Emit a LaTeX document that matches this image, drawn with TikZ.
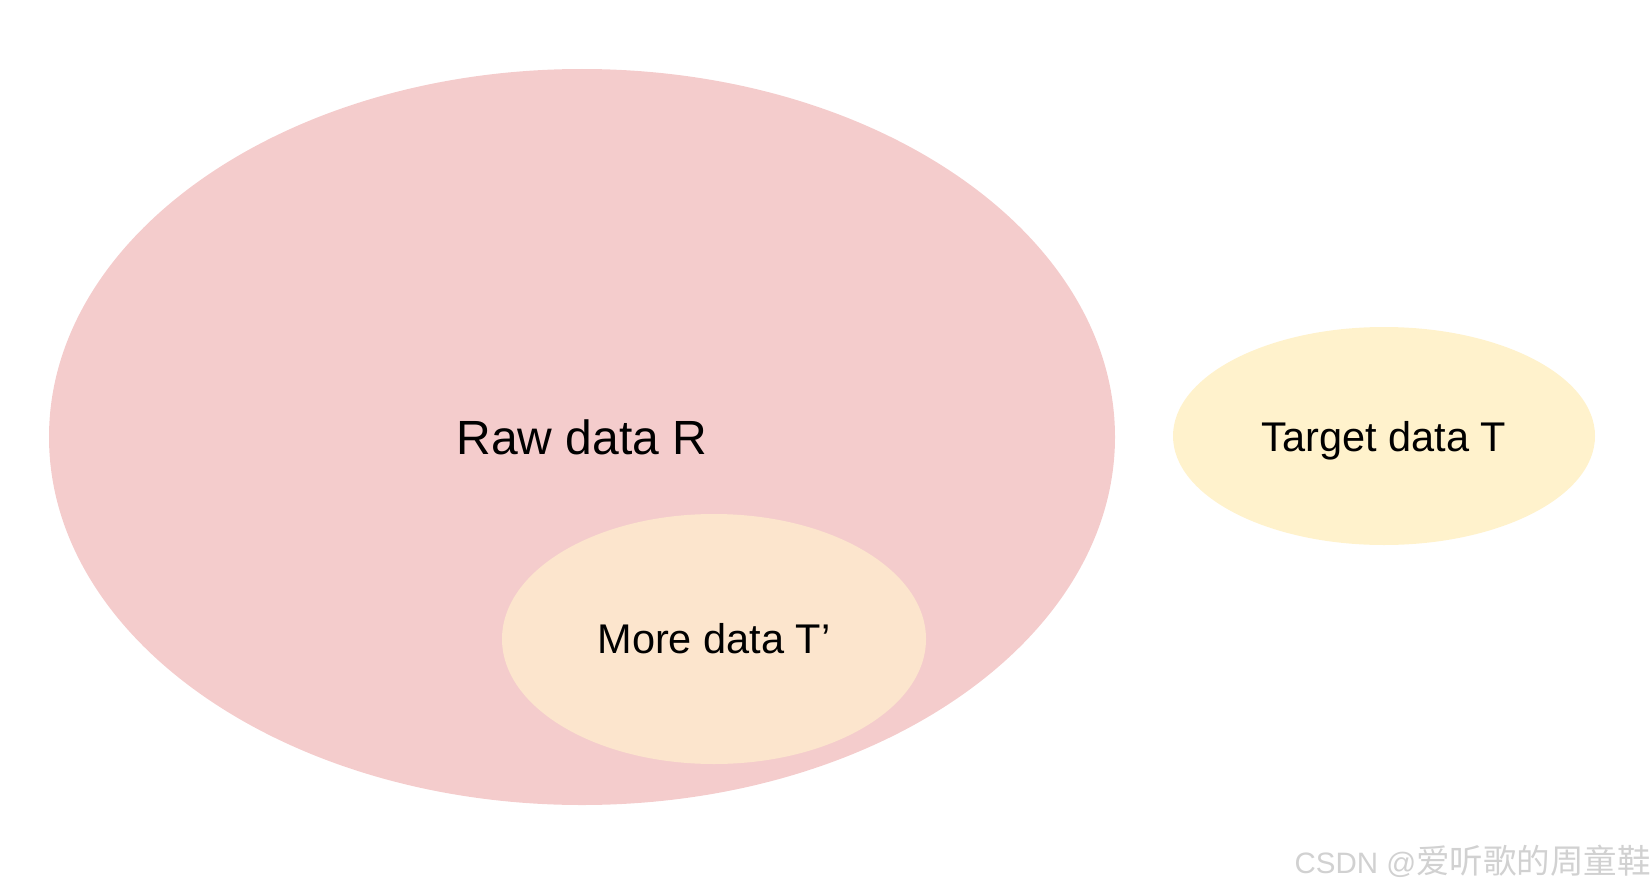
\documentclass[tikz,border=0pt]{standalone}
\usepackage{fontspec}
\setmainfont{Liberation Sans}
\newfontfamily\cjk{Noto Sans CJK SC}
\usepackage{tikz}
\usetikzlibrary{shapes.geometric}

\definecolor{rawpink}{HTML}{F4CCCC}
\definecolor{morepeach}{HTML}{FCE5CD}
\definecolor{targetyellow}{HTML}{FFF2CC}

\begin{document}
\begin{tikzpicture}[x=1pt, y=-1pt, every node/.style={ellipse, inner sep=0pt, text=black}]
        \useasboundingbox (0,0) rectangle (1651,891);
        % data sets
        \node[fill=rawpink, minimum width=1066pt, minimum height=736pt, font=\fontsize{48}{56}\selectfont] (R) at (582, 437) {Raw data R};
        \node[fill=morepeach, minimum width=424pt, minimum height=250pt, font=\fontsize{41.5}{49}\selectfont] (Tp) at (714, 639) {More data T’};
        \node[fill=targetyellow, minimum width=422pt, minimum height=218pt, text depth=0pt, font=\fontsize{41.5}{49}\selectfont] (T) at (1384, 436) {Target data T};
        
        \node[rectangle, anchor=east, text=black!18, font=\fontsize{29.5}{34}\selectfont] (wm) at (1651, 861) {CSDN @{\cjk\fontsize{33.5}{38}\selectfont 爱听歌的周童鞋}};
    \end{tikzpicture}
\end{document}
